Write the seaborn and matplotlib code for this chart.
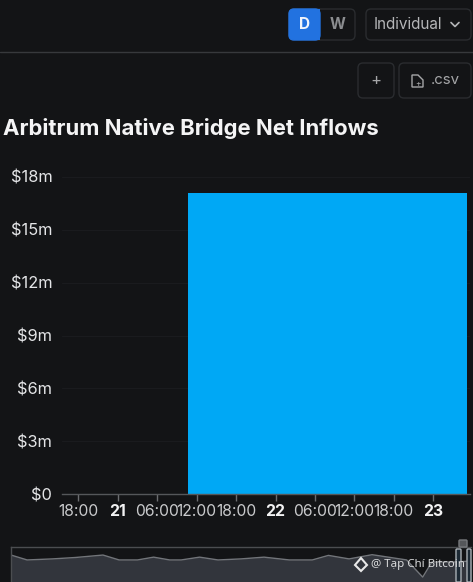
import matplotlib
matplotlib.use('Agg')
import matplotlib.pyplot as plt
from matplotlib.patches import FancyBboxPatch, Rectangle, Polygon
import seaborn as sns

# 数据 ---------------------------------------------------------------
# hours counted from the start of day 21
bar_edges = [10.65, 53.1]
bar_values = [17.1]
y_ticks = [0, 3, 6, 9, 12, 15, 18]
y_labels = ['$0', '$3m', '$6m', '$9m', '$12m', '$15m', '$18m']
x_ticks = [-6, 0, 6, 12, 18, 24, 30, 36, 42, 48]
x_labels = ['18:00', '21', '06:00', '12:00', '18:00', '22', '06:00', '12:00', '18:00', '23']
bold_labels = ['21', '22', '23']

# minimap outline
mini_x = [0, 7, 18, 28, 40, 47, 55, 62, 69, 74, 82, 90, 100, 110, 121, 131, 138, 147, 157,
          165, 172, 179, 183, 193, 200]
mini_y = [0.77, 0.63, 0.66, 0.70, 0.77, 0.63, 0.63, 0.71, 0.63, 0.63, 0.71, 0.63, 0.66, 0.71,
          0.63, 0.63, 0.76, 0.66, 0.78, 0.70, 0.63, 0.14, 0.57, 0.57, 0.60]

BG = '#131416'
W, H = 473, 582

sns.set_theme(style='dark')
plt.rcParams['font.family'] = ['Inter', 'DejaVu Sans']

fig = plt.figure(figsize=(W / 100, H / 100), dpi=100, facecolor=BG)


def px_axes(x0, y0, x1, y1):
    # pixel box, origin top left
    return fig.add_axes([x0 / W, 1 - y1 / H, (x1 - x0) / W, (y1 - y0) / H])


# 主图 ---------------------------------------------------------------
ax = px_axes(62, 177, 470, 494)
ax.set_facecolor(BG)
sns.histplot(x=[bar_edges[0]], weights=bar_values, bins=bar_edges, color='#00a8f5',
             alpha=1, edgecolor='none', linewidth=0, ax=ax)
ax.set_xlim(-8.5, 53.6)
ax.set_ylim(0, 18)
ax.set_xlabel('')
ax.set_ylabel('')
ax.set_yticks(y_ticks)
ax.set_yticklabels(y_labels, color='#e4e5e7', fontsize=11.8)
ax.set_xticks(x_ticks)
ax.set_xticklabels(x_labels, color='#c9cacc', fontsize=11.3)
for lab in ax.get_xticklabels():
    if lab.get_text() in bold_labels:
        lab.set_fontweight('bold')
        lab.set_color('#f2f2f3')
ax.tick_params(axis='y', length=0, pad=7)
# the dark style turns bottom ticks off
ax.tick_params(axis='x', bottom=True, length=5, width=1, color='#6b6d70', pad=2)
ax.grid(axis='y', color='#1a1b1e', linewidth=0.8)
ax.grid(axis='x', visible=False)
ax.set_axisbelow(True)
for s in ['top', 'right', 'left']:
    ax.spines[s].set_visible(False)
ax.spines['bottom'].set_color('#55575a')
ax.spines['bottom'].set_linewidth(1)

# 缩略图 -------------------------------------------------------------
nav = px_axes(11, 547, 471, 582)
nav.set_facecolor(BG)
sns.lineplot(x=mini_x, y=mini_y, color='#72757a', linewidth=1, ax=nav)
nav.fill_between(mini_x, mini_y, 0, color='#32353c', linewidth=0)
nav.set_xlim(0, 200)
nav.set_ylim(0, 1)
nav.set_xticks([])
nav.set_yticks([])
nav.set_xlabel('')
nav.set_ylabel('')
nav.grid(False)
for s in ['right', 'bottom']:
    nav.spines[s].set_visible(False)
for s in ['top', 'left']:
    nav.spines[s].set_color('#4b4d50')
    nav.spines[s].set_linewidth(1)

# 界面元素 -----------------------------------------------------------
ui = fig.add_axes([0, 0, 1, 1], zorder=5)
ui.set_xlim(0, W)
ui.set_ylim(H, 0)
ui.axis('off')


def box(x0, y0, x1, y1, face='none', edge='#2a2c2f', r=5):
    ui.add_patch(FancyBboxPatch((x0, y0), x1 - x0, y1 - y0, boxstyle=f'round,pad=0,rounding_size={r}',
                                facecolor=face, edgecolor=edge, linewidth=1))


ui.plot([0, W], [51.5, 51.5], color='#37393c', linewidth=1)
box(289, 9, 355, 40)
box(289, 9, 320, 40, face='#2272e0', edge='#2272e0')
ui.add_patch(Rectangle((312, 9), 8, 31, facecolor='#2272e0', edgecolor='none'))
ui.text(304.5, 24.5, 'D', color='#f0f4fb', fontsize=11, fontweight='bold', ha='center', va='center')
ui.text(337.5, 24.5, 'W', color='#8b8d90', fontsize=11, fontweight='bold', ha='center', va='center')
box(366, 9, 471, 40)
ui.text(374, 24.5, 'Individual', color='#b5b6b8', fontsize=11, ha='left', va='center')
ui.plot([451, 455, 459], [22.5, 26.5, 22.5], color='#b5b6b8', linewidth=1.2)

box(358, 63, 394, 98)
ui.text(375.5, 80.5, '+', color='#a5a6a8', fontsize=12, ha='center', va='center')
box(399, 63, 471, 98)
ui.add_patch(Polygon([(412, 75), (418, 75), (423, 80), (423, 87), (412, 87)], closed=True,
                     facecolor='none', edgecolor='#a5a6a8', linewidth=1))
ui.text(417.5, 83, '+', color='#a5a6a8', fontsize=6, ha='center', va='center')
ui.text(431, 80.5, '.csv', color='#a5a6a8', fontsize=10.8, ha='left', va='center')

ui.text(3, 135, 'Arbitrum Native Bridge Net Inflows', color='#f4f4f5', fontsize=15.9,
        fontweight='bold', ha='left', va='baseline')

# slider handle + watermark
box(459, 540, 467, 547, face='#55575a', edge='#77797c', r=1)
box(456, 549, 461, 582, face='#1d2a35', edge='#a9b0b5', r=1)
box(467, 549, 471, 582, face='#1d2a35', edge='#a9b0b5', r=1)
ui.add_patch(Polygon([(361, 558), (367, 565), (361, 571), (355, 565)], closed=True,
                     facecolor='none', edgecolor='#e8e8e8', linewidth=1.5))
ui.text(371, 565, '@ Tạp Chí Bitcoin', color='#d8d9da', fontsize=8.3, ha='left', va='center',
        family=['Noto Sans', 'DejaVu Sans'])

fig.savefig('out.png', dpi=100, facecolor=BG)
